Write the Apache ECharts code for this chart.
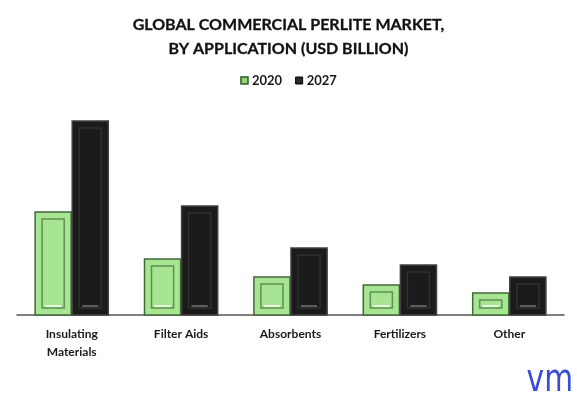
<!DOCTYPE html>
<html><head><meta charset="utf-8">
<script src="https://cdn.jsdelivr.net/npm/echarts@6/dist/echarts.min.js"></script>
<style>html,body{margin:0;padding:0;background:#fff}#c{width:577px;height:393px}</style>
</head><body><div id="c"></div>
<script>
var categories = ['Insulating\nMaterials', 'Filter Aids', 'Absorbents', 'Fertilizers', 'Other'];
var seriesNames = ['2020', '2027'];
var values2020 = [1.03, 0.56, 0.38, 0.30, 0.22];
var values2027 = [1.94, 1.09, 0.67, 0.50, 0.38];

var palettes = [
  {fill: '#a7e592', border: '#3f6a36', inner: '#5f8f52', bottom: '#e6fbdc'},
  {fill: '#1b1b1b', border: '#404040', inner: '#303030', bottom: '#5e5e5e'}
];

function makeRender(si) {
  var p = palettes[si];
  return function (params, api) {
    var cat = api.value(0), v = api.value(1);
    var top = api.coord([cat, v]);
    var base = api.coord([cat, 0]);
    var band = api.size([1, 0])[0];
    var w = band * 0.33;
    var x = si === 0 ? top[0] - w - 0.5 : top[0] + 0.5;
    var y = top[1], h = base[1] - top[1];
    var ins = 7;
    var children = [
      {type: 'rect', shape: {x: x, y: y, width: w, height: h},
        style: {fill: p.fill, stroke: p.border, lineWidth: 1.5}}
    ];
    if (h > 2 * ins + 2) {
      children.push({type: 'rect', shape: {x: x + ins, y: y + ins, width: w - 2 * ins, height: h - 2 * ins},
        style: {fill: p.fill, stroke: p.inner, lineWidth: 1.5}});
      children.push({type: 'line', shape: {x1: x + ins + 3, y1: base[1] - ins - 2, x2: x + w - ins - 3, y2: base[1] - ins - 2},
        style: {stroke: p.bottom, lineWidth: 2}});
    }
    return {type: 'group', children: children};
  };
}

function toData(arr) { return arr.map(function (v, i) { return [i, v]; }); }

var chart = echarts.init(document.getElementById('c'), null, {renderer: 'canvas'});
chart.setOption({
  animation: false,
  title: {
    text: 'GLOBAL COMMERCIAL PERLITE MARKET,\nBY APPLICATION (USD BILLION)',
    left: 'center', top: 8.5,
    textStyle: {fontFamily: 'Lato', fontWeight: 'bold', fontSize: 16, lineHeight: 23.5, color: '#111',
      textBorderColor: '#111', textBorderWidth: 0.3}
  },
  legend: {
    top: 69, left: 'center', itemWidth: 7, itemHeight: 7, itemGap: 13,
    icon: 'rect',
    textStyle: {fontFamily: 'Lato', fontWeight: 'bold', fontSize: 13, color: '#1a1a1a', padding: [0, 0, 0, -1]},
    data: [
      {name: seriesNames[0], itemStyle: {color: '#8fd878', borderColor: '#2f5a28', borderWidth: 1.5}},
      {name: seriesNames[1], itemStyle: {color: '#2a2a2a', borderColor: '#000', borderWidth: 1}}
    ]
  },
  grid: {left: 17, right: 13, top: 115, bottom: 78},
  xAxis: {
    type: 'category', data: categories,
    axisLine: {lineStyle: {color: '#555', width: 1.5}},
    axisTick: {show: false},
    axisLabel: {fontFamily: 'Lato', fontWeight: 'bold', fontSize: 12, color: '#1a1a1a', margin: 10, lineHeight: 18}
  },
  yAxis: {type: 'value', min: 0, max: 2, show: false, splitLine: {show: false}},
  series: [
    {name: seriesNames[0], type: 'custom', renderItem: makeRender(0), encode: {x: 0, y: 1}, data: toData(values2020),
      itemStyle: {color: '#8fd878'}},
    {name: seriesNames[1], type: 'custom', renderItem: makeRender(1), encode: {x: 0, y: 1}, data: toData(values2027),
      itemStyle: {color: '#2a2a2a'}}
  ],
  graphic: [{
    type: 'text', x: 573, y: 381, scaleX: 0.78, originX: 0, originY: 0,
    style: {text: 'vm', fontFamily: 'DejaVu Sans', fontSize: 38, fill: '#3a4bd6',
      align: 'right', verticalAlign: 'middle'}
  }]
});
</script></body></html>
